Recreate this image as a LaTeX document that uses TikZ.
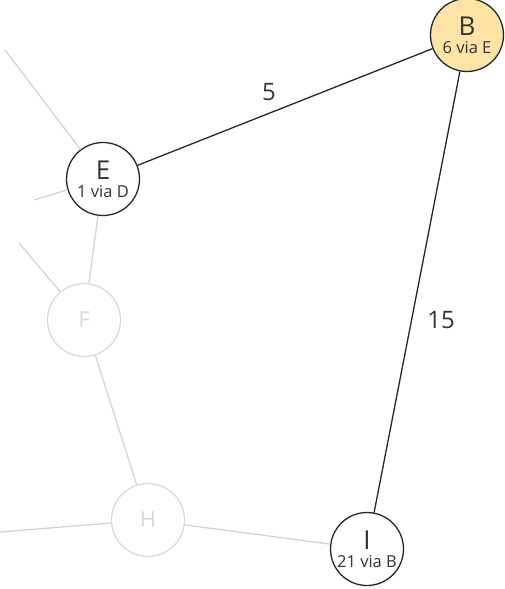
\documentclass[tikz,border=0pt]{standalone}
\usepackage{fontspec}
\setmainfont{Open Sans}
\begin{document}
\begin{tikzpicture}[x=1pt,y=-1pt,
  vnode/.style={circle,draw=black!85,line width=1.3pt,minimum size=73pt,inner sep=0pt,fill=white,text=black!80,align=center},
  faded/.style={circle,draw=black!15,line width=1.3pt,minimum size=73pt,inner sep=0pt,fill=white,text=black!15,font=\fontsize{22}{24}\selectfont},
  active/.style={line width=1.3pt,draw=black!85},
  dim/.style={line width=1.3pt,draw=black!17},
  wlabel/.style={font=\fontsize{24}{26}\selectfont,text=black!80}]
\useasboundingbox (0,0) rectangle (504,589);
\newcommand{\nodetext}[2]{{\fontsize{26}{26}\selectfont #1}\\[5pt]{\fontsize{16.5}{16}\selectfont #2}}
% free ends
\coordinate (e1) at (5,50);
\coordinate (e2) at (34,200);
\coordinate (f1) at (19,243);
\coordinate (h1) at (0,532);
% nodes
\node[vnode,fill={rgb,255:red,253;green,228;blue,166}] (B) at (467,35) {\nodetext{B}{6 via E}};
\node[vnode] (E) at (103,179) {\nodetext{E}{1 via D}};
\node[faded] (F) at (84,320) {F};
\node[faded] (H) at (148,520) {H};
\node[vnode] (I) at (367,549) {\nodetext{I}{21 via B}};
% grey edges
\draw[dim] (e1) -- (E);
\draw[dim] (e2) -- (E);
\draw[dim] (E) -- (F);
\draw[dim] (f1) -- (F);
\draw[dim] (F) -- (H);
\draw[dim] (h1) -- (H);
\draw[dim] (H) -- (I);
% active edges
\draw[active] (E) -- (B);
\draw[active] (B) -- (I);
\node[wlabel] (l5) at (269,92) {5};
\node[wlabel] (l15) at (441,320) {15};
\end{tikzpicture}
\end{document}
